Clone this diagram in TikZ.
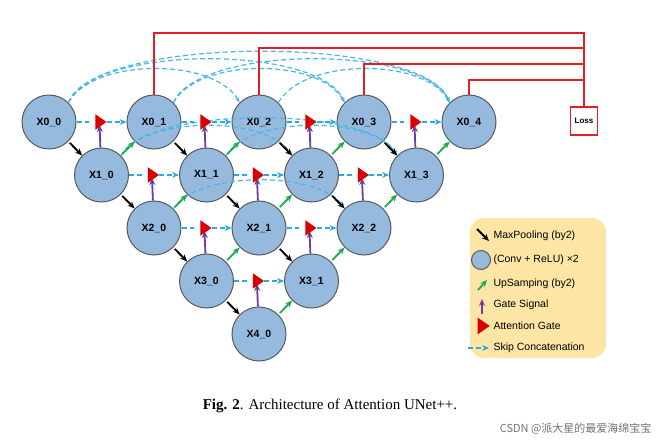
\documentclass[tikz,border=0pt]{standalone}
\usepackage{fontspec}
\setmainfont{Liberation Serif}
\newfontfamily\sans{Liberation Sans}
\newfontfamily\cjk{Noto Sans CJK SC}
\usetikzlibrary{arrows.meta,shapes.geometric}
\definecolor{nodeblue}{RGB}{150,186,222}
\definecolor{skipc}{RGB}{40,170,225}
\definecolor{upg}{RGB}{30,170,80}
\definecolor{gatep}{RGB}{110,60,160}
\definecolor{lossred}{RGB}{225,30,40}
\definecolor{legendy}{RGB}{253,230,165}
\tikzset{
  unet/.style={circle,draw=black!65,fill=nodeblue,line width=1pt,minimum size=54pt,inner sep=0pt,font=\sans\bfseries\fontsize{10.5}{10.5}\selectfont},
  gate/.style={isosceles triangle,isosceles triangle apex angle=70,fill=red!85!black,draw=none,minimum size=11pt,inner sep=0pt},
  pool/.style={-{Stealth[length=7pt,width=6pt]},line width=1.8pt,black},
  up/.style={-{Stealth[length=7pt,width=6pt]},line width=1.8pt,upg},
  sig/.style={-{Stealth[length=7pt,width=6pt]},line width=1.8pt,gatep},
  skip/.style={-{Stealth[length=7pt,width=6pt]},line width=1.6pt,skipc,dash pattern=on 5pt off 3pt},
  arc/.style={-{Stealth[length=5pt]},line width=1.2pt,skipc!85,dash pattern=on 5pt off 3pt},
  loss/.style={line width=1.8pt,lossred},
  leg/.style={font=\sans\fontsize{10.5}{11}\selectfont,anchor=west}
}
\begin{document}
\begin{tikzpicture}[x=1pt,y=-1pt]
\useasboundingbox (0,0) rectangle (665,447);
% nodes
\foreach \i/\jmax in {0/4,1/3,2/2,3/1,4/0}{
  \foreach \j in {0,...,\jmax}{
    \pgfmathsetmacro\xx{49+52.5*(\i+2*\j)}
    \pgfmathsetmacro\yy{122+53*\i}
    \node[unet] (n\i\j) at (\xx,\yy) {X\i\_\j};
  }
}
% long skip arcs
\foreach \i/\k/\j/\h in {0/0/2/45,0/0/3/58,0/0/4/68,0/1/3/45,0/1/4/58,0/2/4/45,1/0/2/40,1/0/3/50,1/1/3/40,2/0/2/38}{
  \draw[arc] (n\i\k.north east) .. controls +(25,-\h) and +(-25,-\h) .. (n\i\j.north west);
}
% gates
\foreach \i/\jmax in {0/4,1/3,2/2,3/1}{
  \foreach \j in {1,...,\jmax}{
    \pgfmathtruncatemacro\jp{\j-1}
    \pgfmathtruncatemacro\ip{\i+1}
    \pgfmathsetmacro\xx{49+52.5*(\i+2*\j-1)-2}
    \pgfmathsetmacro\yy{122+53*\i}
    \draw[skip,-] (n\i\jp) -- ++(40,0);
    \draw[sig] (n\ip\jp) -- (\xx,\yy+3);
    \node[gate] (g\i\j) at (\xx,\yy) {};
    \draw[skip] (g\i\j) -- (n\i\j);
    \draw[pool,shorten <=2pt] (n\i\jp) -- (n\ip\jp);
    \draw[up,shorten <=2pt] (n\ip\jp) -- (n\i\j);
  }
}
% loss
\node[draw=lossred,line width=1.8pt,minimum width=27pt,minimum height=28pt,inner sep=0pt,font=\sans\bfseries\fontsize{8}{8}\selectfont] (loss) at (584,121) {Loss};
\coordinate (lt) at (584,33);
\draw[loss] (n01.north) |- (lt) -- (loss.north);
\draw[loss] (n02.north) |- (584,48);
\draw[loss] (n03.north) |- (584,64);
\draw[loss] (n04.north) |- (584,80);
% legend
\node[fill=legendy,rounded corners=14pt,minimum width=136pt,minimum height=140pt] (lg) at (538,288) {};
\coordinate (a1) at (477,229); \coordinate (a2) at (489,241);
\draw[pool] (a1) -- (a2);
\node[leg] (l1) at (490,236) {MaxPooling (by2)};
\node[circle,draw=black!65,fill=nodeblue,line width=1pt,minimum size=19pt,inner sep=0pt] (lc) at (481,260) {};
\node[leg] (l2) at (490,260) {(Conv + ReLU) ×2};
\coordinate (a3) at (478,290); \coordinate (a4) at (487,280);
\draw[up] (a3) -- (a4);
\node[leg] (l3) at (490,284) {UpSamping (by2)};
\coordinate (a5) at (482,314); \coordinate (a6) at (482,299);
\draw[sig] (a5) -- (a6);
\node[leg] (l4) at (490,305) {Gate Signal};
\node[gate,minimum size=12pt] (lgt) at (482,326) {};
\node[leg] (l5) at (490,326) {Attention Gate};
\coordinate (a7) at (468,348); \coordinate (a8) at (489,348);
\draw[skip] (a7) -- (a8);
\node[leg] (l6) at (490,348) {Skip Concatenation};
% caption
\node[font=\fontsize{15}{16}\selectfont] (cap) at (330,406) {\textbf{Fig. 2}. Architecture of Attention UNet++.};
\node[font=\cjk\fontsize{11}{12}\selectfont,text=black!55,anchor=east] (wm) at (655,429) {CSDN @派大星的最爱海绵宝宝};
\end{tikzpicture}
\end{document}
